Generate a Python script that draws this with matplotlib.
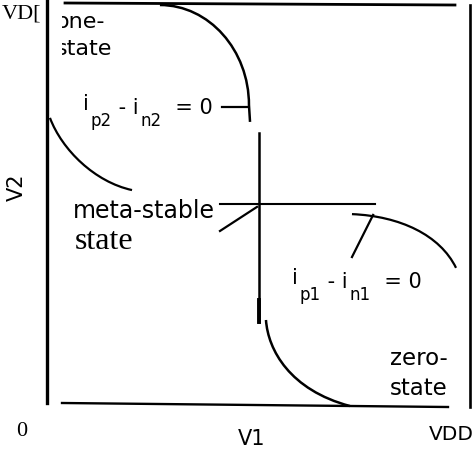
import matplotlib
matplotlib.use("Agg")
import matplotlib.pyplot as plt
from matplotlib.path import Path
from matplotlib.patches import PathPatch, Rectangle

# voltages normalised to VDD (0 .. 1)
# curve control points (cubic bezier, last point is a straight tail)
ip2_v1 = [0.267, 0.383, 0.4775, 0.4775, 0.480]
ip2_v2 = [0.9975, 0.9975, 0.885, 0.748, 0.706]

left_v1 = [0.007, 0.0355, 0.1135, 0.201]
left_v2 = [0.716, 0.636, 0.556, 0.536]

ip1_v1 = [0.721, 0.8345, 0.929, 0.967]
ip1_v2 = [0.476, 0.471, 0.424, 0.342]

low_v1 = [0.5177, 0.5225, 0.5745, 0.716]
low_v2 = [0.212, 0.137, 0.0374, -0.0025]

# one-state / zero-state rails
top_v1 = [0.0426, 0.9645]
top_v2 = [1.0025, 0.9975]
bottom_v1 = [0.0355, 0.948]
bottom_v2 = [0.005, -0.005]

# meta-stable cross
cross_v1 = 0.501
cross_v2 = 0.501
cross_vrange = [0.207, 0.678]
cross_hrange = [0.409, 0.775]

# label leaders
lead_ip2 = ([0.4137, 0.4728], [0.743, 0.743])
lead_meta = ([0.409, 0.4965], [0.434, 0.494])
lead_ip1 = ([0.771, 0.721], [0.474, 0.369])

fig = plt.figure(figsize=(4.74, 4.51), dpi=100)
ax = fig.add_axes([0, 0, 1, 1])
ax.set_xlim(-0.1111, 1.0095)
ax.set_ylim(-0.1147, 1.00998)
ax.axis("off")

k = "black"
serif = "Liberation Serif"
sans = "DejaVu Sans"


def bezier(xs, ys, lw=1.8):
    verts = list(zip(xs, ys))
    codes = [Path.MOVETO, Path.CURVE4, Path.CURVE4, Path.CURVE4]
    codes += [Path.LINETO] * (len(verts) - 4)
    ax.add_patch(PathPatch(Path(verts, codes), fill=False, ec=k, lw=lw,
                           capstyle="butt"))


def current_eq(x, y, first, second, sub_drop=8.5):
    # i_a - i_b = 0 with big, well lowered subscripts like the original
    t = ax.text(x, y, "i", family=sans, fontsize=15, va="baseline")
    prev = t
    parts = [(first, True), (" - i", False), (second, True), ("  = 0", False)]
    for s, sub in parts:
        prev = ax.annotate(s, xy=(1, 0), xycoords=(prev, t),
                           xytext=(1.5 if sub else 0, -sub_drop if sub else 0),
                           textcoords="offset points", family=sans,
                           fontsize=12 if sub else 15, va="baseline")


# frame lines
ax.plot([0, 0], [0.005, 1.012], color=k, lw=2.4)
ax.plot([1.0, 1.0], [-0.005, 0.9975], color=k, lw=1.9)
ax.plot(top_v1, top_v2, color=k, lw=2.0)
ax.plot(bottom_v1, bottom_v2, color=k, lw=1.7)

bezier(ip2_v1, ip2_v2)
bezier(left_v1, left_v2, lw=1.6)
bezier(ip1_v1, ip1_v2, lw=1.6)
bezier(low_v1, low_v2)

ax.plot([cross_v1, cross_v1], cross_vrange, color=k, lw=1.8)
ax.plot([cross_v1, cross_v1], [cross_vrange[0], cross_vrange[0] + 0.055], color=k, lw=2.8)
ax.plot(cross_hrange, [cross_v2, cross_v2], color=k, lw=1.5)

for lx, ly in (lead_ip2, lead_meta, lead_ip1):
    ax.plot(lx, ly, color=k, lw=1.6)

ax.text(-0.1064, 0.976, "VD[", family=serif, fontsize=16, va="center", ha="left")
ax.text(-0.059, -0.067, "0", family=serif, fontsize=16, va="center", ha="center")
ax.text(-0.071, 0.544, "V2", family=sans, fontsize=15, rotation=90,
        va="center", ha="center")
ax.text(0.4846, -0.100, "V1", family=sans, fontsize=15, va="baseline", ha="center")
ax.text(0.955, -0.0748, "VDD", family=sans, fontsize=14.5, va="center", ha="center")

# the "one-state" label is cut off by the scan on its left side
clip = Rectangle((0.0355, 0.8), 0.3, 0.25, transform=ax.transData)
for s, y in (("one-", 0.940), ("state", 0.873)):
    t = ax.text(0.0205, y, s, family=sans, fontsize=16, va="baseline")
    t.set_clip_on(True)
    t.set_clip_path(clip)

ax.text(0.0615, 0.466, "meta-stable", family=sans, fontsize=17, va="baseline")
ax.text(0.066, 0.389, "state", family=serif, fontsize=23, va="baseline")
ax.text(0.811, 0.0998, "zero-", family=sans, fontsize=16.5, va="baseline")
ax.text(0.811, 0.025, "state", family=sans, fontsize=16.5, va="baseline")

current_eq(0.085, 0.7357, "p2", "n2")
current_eq(0.579, 0.302, "p1", "n1")

fig.savefig("out.png", dpi=100)
